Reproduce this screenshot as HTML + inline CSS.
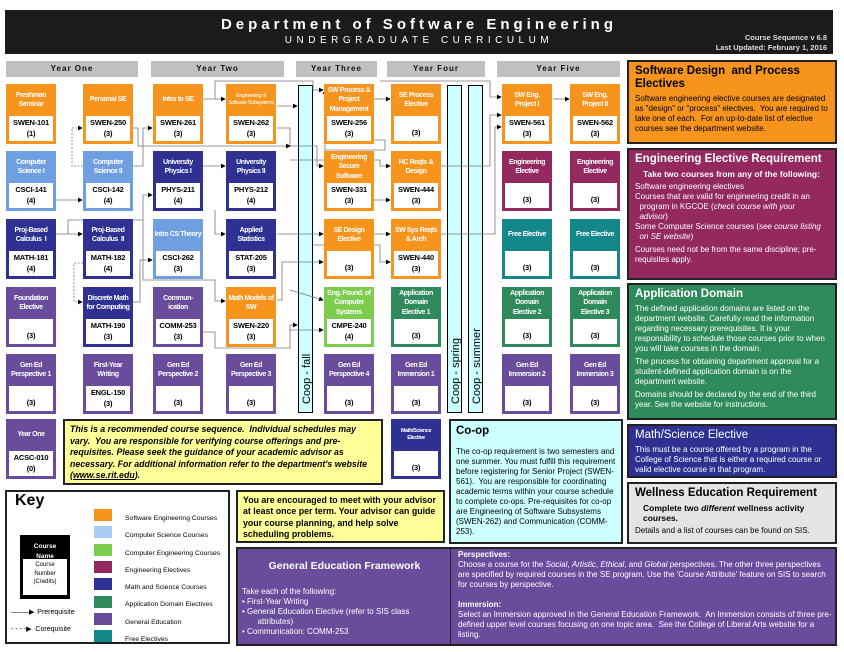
<!DOCTYPE html>
<html><head><meta charset="utf-8"><style>
*{margin:0;padding:0;box-sizing:border-box}
body{width:844px;height:652px;background:#fff;position:relative;overflow:hidden;font-family:"Liberation Sans",Arial,sans-serif}
.a{position:absolute}
.hdr{left:5px;top:10px;width:828px;height:44px;background:#1b1b1b;color:#fff}
.yr{position:absolute;top:61px;height:16px;background:#c0c0c0;font-size:8px;font-weight:bold;letter-spacing:1px;text-align:center;line-height:16px;color:#111}
.c{position:absolute;width:50px;height:60px}
.c .t{position:absolute;left:0;top:0;width:50px;height:32px;display:flex;align-items:center;justify-content:center;text-align:center;color:#fff;font-weight:bold;font-size:7px;line-height:9.5px;letter-spacing:-0.4px;padding:0 1px}
.c .w{position:absolute;left:3px;top:32px;width:44px;height:25px;background:#fff;text-align:center;font-size:7.5px;font-weight:bold;line-height:10.5px;color:#000;padding-top:2px;letter-spacing:-0.2px}
.c .w.n{padding-top:12px}
.or{background:#f7941d}.lb{background:#6f9fe0}.db{background:#2e3192}.pu{background:#6a4c9c}
.mr{background:#93295f}.tl{background:#13878a}.gr{background:#7ccc4e}.ad{background:#2f8a5b}
.coop{position:absolute;top:85px;height:328px;width:15px;background:#ccffff;border:1.5px solid #000}
.coop span{position:absolute;left:-40px;bottom:50px;width:96px;transform:rotate(-90deg);font-size:11px;text-align:left}
.p{position:absolute;border:2px solid #222;padding:3px 6px;font-size:8px;line-height:10px}
.p h3{font-size:11.5px;line-height:13px;margin-bottom:3px}
.p p{margin-bottom:3px}
</style></head><body>
<div class="a hdr">
<div class="a" style="left:0;width:828px;top:6px;text-align:center;font-size:15px;font-weight:bold;letter-spacing:4px">Department of Software Engineering</div>
<div class="a" style="left:0;width:828px;top:25px;text-align:center;font-size:10px;letter-spacing:4.5px">UNDERGRADUATE CURRICULUM</div>
<div class="a" style="right:6px;top:23px;text-align:right;font-size:7.5px;font-weight:bold;line-height:10px;color:#ddd">Course Sequence v 6.8<br>Last Updated: February 1, 2016</div>
</div>
<div class="yr" style="left:6px;width:132px">Year One</div>
<div class="yr" style="left:151px;width:133px">Year Two</div>
<div class="yr" style="left:296px;width:81px">Year Three</div>
<div class="yr" style="left:387px;width:98px">Year Four</div>
<div class="yr" style="left:497px;width:123px">Year Five</div>

<div class="coop" style="left:298px"><span>Coop - fall</span></div>
<div class="coop" style="left:447px"><span>Coop - spring</span></div>
<div class="coop" style="left:468px"><span>Coop - summer</span></div>

<svg class="a" style="left:0;top:0" width="844" height="652">
<defs><marker id="ar" markerWidth="6" markerHeight="6" refX="5" refY="3" orient="auto"><path d="M0,0L6,3L0,6z" fill="#000"/></marker></defs>
<g fill="none" stroke="#777" stroke-width="0.8" marker-end="url(#ar)">
<polyline points="56,200 82,200"/>
<polyline points="203,99 215,99 215,81 313,81 313,90 323,90"/>
<polyline points="215,99 225,99"/>
<polyline points="277,106 297,106"/>
<polyline points="277,128 290,128 290,146 317,146 317,166 323,166"/>
<polyline points="133,128 138,128 138,146 290,146"/>
<polyline points="203,166 225,166"/>
<polyline points="56,234 82,234"/>
<polyline points="68,234 68,220 143,220 143,195 152,195"/>
<polyline points="133,166 143,166 143,128 152,128"/>
<polyline points="133,302 140,302 140,260 152,260"/>
<polyline points="215,210 215,234 225,234"/>
<polyline points="143,220 143,280 215,280 215,301 225,301"/>
<polyline points="203,332 215,332 215,348 290,348 290,325 297,325"/>
<polyline points="277,300 282,300 282,262 323,262"/>
<polyline points="277,234 290,234 290,234 323,234"/>
<polyline points="290,290 323,300"/>
<polyline points="290,330 323,330"/>
<polyline points="374,99 390,99"/>
<polyline points="374,140 385,140 385,150 325,150 325,90"/>
<polyline points="374,234 390,234"/>
<polyline points="313,245 380,245 380,262 390,262"/>
<polyline points="290,160 380,160 380,166 390,166"/>
<polyline points="374,200 390,200"/>
<polyline points="380,81 490,81 490,97 501,97"/>
<polyline points="441,166 490,166 490,115 501,115"/>
<polyline points="441,234 495,234 495,127 501,127"/>
<polyline points="553,99 569,99"/>
</g>
<g fill="none" stroke="#777" stroke-width="0.8" stroke-dasharray="2,1.5" marker-end="url(#ar)">
<polyline points="83,166 72,166 72,128 82,128"/>
<polyline points="83,263 74,263 74,302 82,302"/>
</g>
</svg>

<!-- row1 -->
<div class="c or" style="left:6px;top:84px"><div class="t">Freshman Seminar</div><div class="w">SWEN-101<br>(1)</div></div>
<div class="c or" style="left:83px;top:84px"><div class="t">Personal SE</div><div class="w">SWEN-250<br>(3)</div></div>
<div class="c or" style="left:153px;top:84px"><div class="t">Intro to SE</div><div class="w">SWEN-261<br>(3)</div></div>
<div class="c or" style="left:226px;top:84px"><div class="t" style="font-size:5.5px;line-height:7.5px;font-weight:normal">Engineering of Software Subsystems</div><div class="w">SWEN-262<br>(3)</div></div>
<div class="c or" style="left:324px;top:84px"><div class="t">SW Process &amp; Project Management</div><div class="w">SWEN-256<br>(3)</div></div>
<div class="c or" style="left:391px;top:84px"><div class="t">SE Process Elective</div><div class="w n">(3)</div></div>
<div class="c or" style="left:502px;top:84px"><div class="t">SW Eng. Project I</div><div class="w">SWEN-561<br>(3)</div></div>
<div class="c or" style="left:570px;top:84px"><div class="t">SW Eng. Project II</div><div class="w">SWEN-562<br>(3)</div></div>
<!-- row2 -->
<div class="c lb" style="left:6px;top:151px"><div class="t">Computer Science I</div><div class="w">CSCI-141<br>(4)</div></div>
<div class="c lb" style="left:83px;top:151px"><div class="t">Computer Science II</div><div class="w">CSCI-142<br>(4)</div></div>
<div class="c db" style="left:153px;top:151px"><div class="t">University Physics I</div><div class="w">PHYS-211<br>(4)</div></div>
<div class="c db" style="left:226px;top:151px"><div class="t">University Physics II</div><div class="w">PHYS-212<br>(4)</div></div>
<div class="c or" style="left:324px;top:151px"><div class="t">Engineering Secure Software</div><div class="w">SWEN-331<br>(3)</div></div>
<div class="c or" style="left:391px;top:151px"><div class="t">HC Reqts &amp; Design</div><div class="w">SWEN-444<br>(3)</div></div>
<div class="c mr" style="left:502px;top:151px"><div class="t">Engineering Elective</div><div class="w n">(3)</div></div>
<div class="c mr" style="left:570px;top:151px"><div class="t">Engineering Elective</div><div class="w n">(3)</div></div>
<!-- row3 -->
<div class="c db" style="left:6px;top:219px"><div class="t">Proj-Based Calculus&nbsp; I</div><div class="w">MATH-181<br>(4)</div></div>
<div class="c db" style="left:83px;top:219px"><div class="t">Proj-Based Calculus&nbsp; II</div><div class="w">MATH-182<br>(4)</div></div>
<div class="c lb" style="left:153px;top:219px"><div class="t">Intro CS Theory</div><div class="w">CSCI-262<br>(3)</div></div>
<div class="c db" style="left:226px;top:219px"><div class="t">Applied Statistics</div><div class="w">STAT-205<br>(3)</div></div>
<div class="c or" style="left:324px;top:219px"><div class="t">SE Design Elective</div><div class="w n">(3)</div></div>
<div class="c or" style="left:391px;top:219px"><div class="t">SW Sys Reqts &amp; Arch</div><div class="w">SWEN-440<br>(3)</div></div>
<div class="c tl" style="left:502px;top:219px"><div class="t">Free Elective</div><div class="w n">(3)</div></div>
<div class="c tl" style="left:570px;top:219px"><div class="t">Free Elective</div><div class="w n">(3)</div></div>
<!-- row4 -->
<div class="c pu" style="left:6px;top:287px"><div class="t">Foundation Elective</div><div class="w n">(3)</div></div>
<div class="c db" style="left:83px;top:287px"><div class="t">Discrete Math for Computing</div><div class="w">MATH-190<br>(3)</div></div>
<div class="c pu" style="left:153px;top:287px"><div class="t">Commun-ication</div><div class="w">COMM-253<br>(3)</div></div>
<div class="c or" style="left:226px;top:287px"><div class="t">Math Models of SW</div><div class="w">SWEN-220<br>(3)</div></div>
<div class="c gr" style="left:324px;top:287px"><div class="t">Eng. Found. of Computer Systems</div><div class="w">CMPE-240<br>(4)</div></div>
<div class="c ad" style="left:391px;top:287px"><div class="t">Application Domain Elective 1</div><div class="w n">(3)</div></div>
<div class="c ad" style="left:502px;top:287px"><div class="t">Application Domain Elective 2</div><div class="w n">(3)</div></div>
<div class="c ad" style="left:570px;top:287px"><div class="t">Application Domain Elective 3</div><div class="w n">(3)</div></div>
<!-- row5 -->
<div class="c pu" style="left:6px;top:354px"><div class="t">Gen Ed Perspective 1</div><div class="w n">(3)</div></div>
<div class="c pu" style="left:83px;top:354px"><div class="t">First-Year Writing</div><div class="w">ENGL-150<br>(3)</div></div>
<div class="c pu" style="left:153px;top:354px"><div class="t">Gen Ed Perspective 2</div><div class="w n">(3)</div></div>
<div class="c pu" style="left:226px;top:354px"><div class="t">Gen Ed Perspective 3</div><div class="w n">(3)</div></div>
<div class="c pu" style="left:324px;top:354px"><div class="t">Gen Ed Perspective 4</div><div class="w n">(3)</div></div>
<div class="c pu" style="left:391px;top:354px"><div class="t">Gen Ed Immersion 1</div><div class="w n">(3)</div></div>
<div class="c pu" style="left:502px;top:354px"><div class="t">Gen Ed Immersion 2</div><div class="w n">(3)</div></div>
<div class="c pu" style="left:570px;top:354px"><div class="t">Gen Ed Immersion 3</div><div class="w n">(3)</div></div>
<!-- row6 -->
<div class="c pu" style="left:6px;top:419px"><div class="t">Year One</div><div class="w">ACSC-010<br>(0)</div></div>
<div class="c db" style="left:391px;top:419px"><div class="t" style="font-size:5.5px;line-height:7.5px">Math/Science Elective</div><div class="w n">(3)</div></div>

<div class="p" style="left:63px;top:419px;width:320px;height:66px;background:#ffff99;font-size:8.8px;line-height:11.5px;font-weight:bold;font-style:italic;padding:3px 5px">This is a recommended course sequence.&nbsp; Individual schedules may vary.&nbsp; You are responsible for verifying course offerings and pre-requisites. Please seek the guidance of your academic advisor as necessary. For additional information refer to the department's website (<u>www.se.rit.edu</u>).</div>

<div class="p" style="left:449px;top:419px;width:174px;height:125px;background:#ccffff;font-size:8px;line-height:10px;padding:4px 5px"><h3 style="margin-bottom:9px">Co-op</h3>The co-op requirement is two semesters and one summer. You must fulfill this requirement before registering for Senior Project (SWEN-561).&nbsp; You are responsible for coordinating academic terms within your course schedule to complete co-ops. Pre-requisites for co-op are Engineering of Software Subsystems (SWEN-262) and Communication (COMM-253).</div>

<div class="p" style="left:627px;top:60px;width:210px;height:84px;background:#f7941d"><h3>Software Design &nbsp;and Process Electives</h3>Software engineering elective courses are designated as "design" or "process" electives.&nbsp; You are required to take one of each.&nbsp; For an up-to-date list of elective courses see the department website.</div>
<div class="p" style="left:627px;top:148px;width:210px;height:132px;background:#93295f;color:#fff"><h3>Engineering Elective Requirement</h3><p style="font-weight:bold;font-size:8.5px;padding-left:8px">Take two courses from any of the following:</p>Software engineering electives<br>Courses that are valid for engineering credit in an<br>&nbsp;&nbsp;program in KGCOE (<i>check course with your<br>&nbsp;&nbsp;advisor</i>)<br>Some Computer Science courses (<i>see course listing<br>&nbsp;&nbsp;on SE website</i>)<p style="margin-top:3px">Courses need not be from the same discipline; pre-requisites apply.</p></div>
<div class="p" style="left:627px;top:283px;width:210px;height:137px;background:#2f8a5b;color:#fff"><h3>Application Domain</h3><p>The defined application domains are listed on the department website. Carefully read the information regarding necessary prerequisites. It is your responsibility to schedule those courses prior to when you will take courses in the domain.</p><p>The process for obtaining department approval for a student-defined application domain is on the department website.</p><p>Domains should be declared by the end of the third year. See the website for instructions.</p></div>
<div class="p" style="left:627px;top:424px;width:210px;height:54px;background:#2e3192;color:#fff"><h3 style="font-weight:normal">Math/Science Elective</h3>This must be a course offered by a program in the College of Science that is either a required course or valid elective course in that program.</div>
<div class="p" style="left:627px;top:482px;width:210px;height:62px;background:#e4e4e4"><h3>Wellness Education Requirement</h3><p style="font-weight:bold;padding-left:8px;font-size:8.5px">Complete two <i>different</i> wellness activity courses.</p>Details and a list of courses can be found on SIS.</div>

<div class="p" style="left:236px;top:490px;width:209px;height:53px;background:#ffff99;font-size:8.8px;line-height:11.3px;font-weight:bold;padding:3px 5px">You are encouraged to meet with your advisor at least once per term. Your advisor can guide your course planning, and help solve scheduling problems.</div>

<div class="p" style="left:5px;top:490px;width:225px;height:154px;background:#fff;padding:0">
<div class="a" style="left:8px;top:4px;font-size:16px;font-weight:bold">Key</div>
<div class="a" style="left:13px;top:43px;width:50px;height:64px;background:#000;color:#fff;font-size:6.5px;font-weight:bold;text-align:center;line-height:9.5px;padding-top:7px">Course<br>Name</div>
<div class="a" style="left:16px;top:67px;width:44px;height:36px;background:#fff;font-size:6px;text-align:center;line-height:8.5px;padding-top:2px">Course<br>Number<br>(Credits)</div>
<div class="a" style="left:4px;top:116px;font-size:7px"><span style="letter-spacing:-1px">———▶</span>&nbsp; Prerequisite</div>
<div class="a" style="left:4px;top:133px;font-size:7px"><span>- - - -▶</span>&nbsp; Corequisite</div>
<div class="a" style="left:87px;top:17px;width:18px;height:12px;background:#f7941d"></div>
<div class="a" style="left:87px;top:34px;width:18px;height:12px;background:#a9cdf2"></div>
<div class="a" style="left:87px;top:52px;width:18px;height:12px;background:#7ccc4e"></div>
<div class="a" style="left:87px;top:69px;width:18px;height:12px;background:#93295f"></div>
<div class="a" style="left:87px;top:86px;width:18px;height:12px;background:#2e3192"></div>
<div class="a" style="left:87px;top:104px;width:18px;height:12px;background:#2f8a5b"></div>
<div class="a" style="left:87px;top:121px;width:18px;height:12px;background:#6a4c9c"></div>
<div class="a" style="left:87px;top:138px;width:18px;height:12px;background:#13878a"></div>
<div class="a" style="left:118px;top:18px;font-size:6.8px;line-height:17.3px">Software Engineering Courses<br>Computer Science Courses<br>Computer Engineering Courses<br>Engineering Electives<br>Math and Science Courses<br>Application Domain Electives<br>General Education<br>Free Electives</div>
</div>

<div class="p" style="left:236px;top:547px;width:601px;height:99px;background:#6a4c9c;color:#fff;padding:0">
<div class="a" style="left:0;top:0;width:213px;height:95px;border-right:1.5px solid #222"></div>
<div class="a" style="left:0;top:12px;width:213px;text-align:center;font-size:10.5px;font-weight:bold">General Education Framework</div>
<div class="a" style="left:4px;top:38px;font-size:8px;line-height:10px">Take each of the following:<br>• First-Year Writing<br>• General Education Elective (refer to SIS class<br>&nbsp;&nbsp;&nbsp;&nbsp;&nbsp;&nbsp;&nbsp;attributes)<br>• Communication: COMM-253</div>
<div class="a" style="left:220px;top:1px;width:375px;font-size:8px;line-height:10px"><b>Perspectives:</b><br>Choose a course for the <i>Social</i>, <i>Artistic</i>, <i>Ethical</i>, and <i>Global</i> perspectives. The other three perspectives are specified by required courses in the SE program. Use the 'Course Attribute' feature on SIS to search for courses by perspective.<br><br><b>Immersion:</b><br>Select an Immersion approved in the General Education Framework.&nbsp; An Immersion consists of three pre-defined upper level courses focusing on one topic area.&nbsp; See the College of Liberal Arts website for a listing.</div>
</div>
</body></html>
